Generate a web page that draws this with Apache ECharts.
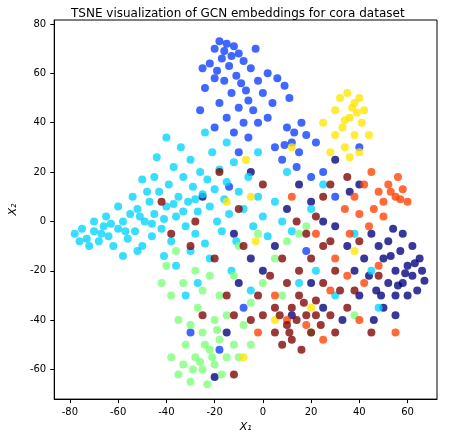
<!DOCTYPE html>
<html><head><meta charset="utf-8">
<script src="https://cdn.jsdelivr.net/npm/echarts@6/dist/echarts.min.js"></script>
<style>html,body{margin:0;padding:0;background:#fff}#c{width:450px;height:438px}</style>
</head><body><div id="c"></div>
<script>
const title = "TSNE visualization of GCN embeddings for cora dataset";
const xTicks = [-80,-60,-40,-20,0,20,40,60];
const yTicks = [-60,-40,-20,0,20,40,60,80];
const classColors = ["#00007f","#0a3cff","#00d4ff","#7dff7a","#ffe500","#ff4000","#7f0000"];
const cls0 = [[45,-5],[48,-10],[50,-15],[52,-8],[55,-20],[57,-12],[58,-25],[60,-18],[62,-22],[64,-28],[66,-20],[60,-30],[55,-30],[52,-25],[50,-35],[47,-28],[44,-22],[42,-15],[54,-3],[58,-5],[62,-10],[65,-15],[40,-30],[38,-20],[35,-10],[30,-2],[25,0],[20,8],[15,15],[10,5],[5,-10],[0,-20],[-5,-15],[-10,-25],[-20,-63],[-15,-45],[30,25],[40,15],[33,-40],[25,-35],[36,12],[55,-38],[46,-40],[20,-25],[12,-38],[-12,-5],[-25,10],[-5,20],[63,-17],[59,-21],[53,-14],[49,-30],[56,-26],[67,-24]];
const cls1 = [[-20,70],[-18,73],[-15,72],[-12,71],[-10,68],[-17,66],[-22,64],[-14,63],[-8,65],[-5,62],[-20,58],[-16,57],[-11,59],[-2,57],[2,60],[6,58],[9,55],[-24,54],[-13,52],[-7,53],[0,52],[4,48],[-18,48],[-10,46],[-4,45],[-15,42],[-8,40],[-20,38],[-12,36],[-6,34],[2,42],[10,38],[12,32],[15,28],[18,35],[8,25],[14,22],[20,18],[5,30],[16,40],[-25,62],[-3,70],[11,50],[22,32],[-10,28],[-26,45],[25,20],[30,10],[-30,-45],[-8,-35],[18,-12],[40,30],[-14,14],[-18,-52],[-16,69],[-13,67],[-19,61],[-9,56],[-6,49],[-2,40],[13,36],[9,31]];
const cls2 = [[-78,-5],[-75,-3],[-73,-7],[-70,-4],[-68,-8],[-66,-2],[-64,-6],[-62,-10],[-60,-3],[-58,0],[-56,-7],[-55,3],[-53,-4],[-52,5],[-50,-10],[-49,0],[-47,8],[-46,-6],[-45,3],[-43,12],[-42,-3],[-40,6],[-39,15],[-38,-8],[-37,22],[-36,2],[-35,10],[-34,30],[-33,18],[-32,-2],[-31,8],[-30,25],[-29,14],[-28,-5],[-27,4],[-26,20],[-25,11],[-24,-9],[-23,17],[-22,6],[-21,28],[-20,13],[-19,0],[-18,21],[-17,-4],[-16,9],[-15,16],[-14,3],[-12,24],[-11,-8],[-10,12],[-8,5],[-6,18],[-4,-2],[-2,10],[0,2],[2,-6],[5,8],[8,0],[12,-4],[-45,18],[-48,12],[-52,-12],[-58,-14],[-65,2],[-41,-14],[-36,-18],[-30,-12],[-27,-25],[-32,-30],[-44,26],[-40,34],[-24,36],[-15,32],[-60,6],[-70,0],[-72,-10],[-54,10],[-50,17],[-22,-15],[-13,-20],[-5,-28],[15,-25],[22,-20],[30,-30],[20,5],[25,15],[-2,28],[10,20],[45,-20],[38,-5],[48,-35],[-76,-8],[-67,-5],[-63,-1],[-57,-4],[-51,2],[-46,-1],[-41,1],[-37,7],[-33,4],[-28,9]];
const cls3 = [[-35,-62],[-30,-65],[-25,-60],[-20,-58],[-15,-55],[-28,-55],[-22,-52],[-32,-50],[-18,-48],[-25,-45],[-30,-42],[-35,-40],[-20,-40],[-15,-38],[-12,-50],[-10,-55],[-38,-30],[-33,-25],[-28,-20],[-25,-28],[-40,-18],[-36,-12],[-22,-22],[-18,-30],[-8,-42],[-5,-33],[0,-25],[5,-15],[10,-8],[15,-5],[18,-2],[-2,-5],[-10,-10],[8,-30],[-27,-35],[-33,-58],[-17,-62],[-23,-66],[-38,-55],[20,-45],[38,-38],[-5,-50],[-42,-25],[-12,-22],[-26,-57],[-21,-55],[-29,-60],[-24,-50],[-19,-44]];
const cls4 = [[30,45],[32,50],[35,52],[38,48],[40,50],[42,45],[36,42],[33,38],[38,35],[41,40],[34,30],[40,28],[36,26],[44,35],[30,35],[28,28],[25,40],[-7,25],[-5,10],[-3,-8],[5,-40],[-8,-55],[20,-35],[-15,8],[12,30],[38,-12],[37,46],[39,44],[34,41]];
const cls5 = [[38,10],[42,15],[45,20],[48,12],[50,8],[52,15],[55,10],[58,13],[60,8],[46,5],[40,3],[44,-2],[50,2],[36,-5],[48,-18],[42,-25],[35,-22],[30,-15],[22,-5],[10,-40],[18,-42],[25,-48],[5,-30],[28,-28],[-2,-45],[40,-40],[55,-45],[12,10],[56,18],[34,5],[53,12],[57,9]];
const cls6 = [[5,-45],[8,-50],[10,-42],[12,-35],[15,-30],[18,-38],[20,-45],[22,-32],[25,-25],[28,-38],[30,-20],[15,-20],[20,-15],[25,-10],[10,-25],[5,-35],[0,-38],[-2,-30],[18,-5],[22,2],[25,10],[28,-8],[32,-28],[35,-35],[12,-48],[16,-52],[24,-42],[30,-45],[8,-15],[-5,-40],[-12,-38],[-20,-15],[-30,-10],[-38,-5],[-42,8],[-28,0],[-8,-10],[3,-22],[-15,-30],[38,-28],[45,-45],[48,-22],[40,-8],[14,0],[28,15],[35,18],[0,15],[-10,5],[-18,20],[-25,-38],[-12,-62],[11,-45],[14,-40],[7,-38],[17,-33],[22,-38]];
const classes = [cls0,cls1,cls2,cls3,cls4,cls5,cls6];

const axisCommon = {
  axisLine:{show:true,onZero:false,lineStyle:{color:'#000'}},
  splitLine:{show:false},
  nameTextStyle:{color:'#000',fontSize:11,fontFamily:'DejaVu Sans',fontStyle:'italic'}
};
const lbl = {color:'#000',fontSize:10,fontFamily:'DejaVu Sans'};
const chart = echarts.init(document.getElementById('c'));
chart.setOption({
  animation:false,
  title:{text:title,left:66,top:3,textStyle:{fontSize:12,fontWeight:'normal',color:'#000',fontFamily:'DejaVu Sans'}},
  grid:{left:47,right:13,top:20,bottom:38,show:true,borderColor:'#000',borderWidth:1},
  xAxis:Object.assign({},axisCommon,{type:'value',min:-86.5,max:72.2,name:'X₁',nameLocation:'middle',nameGap:20,
    axisTick:{show:true,length:4,lineStyle:{color:'#000'},customValues:xTicks},
    axisLabel:Object.assign({},lbl,{customValues:xTicks})}),
  yAxis:Object.assign({},axisCommon,{type:'value',min:-72,max:81.6,name:'X₂',nameLocation:'middle',nameGap:28,
    axisTick:{show:true,length:4,lineStyle:{color:'#000'},customValues:yTicks},
    axisLabel:Object.assign({},lbl,{customValues:yTicks})}),
  series:classes.map((d,i)=>({type:'scatter',data:d,symbolSize:8,
    itemStyle:{color:classColors[i],opacity:0.78}}))
});
</script></body></html>
